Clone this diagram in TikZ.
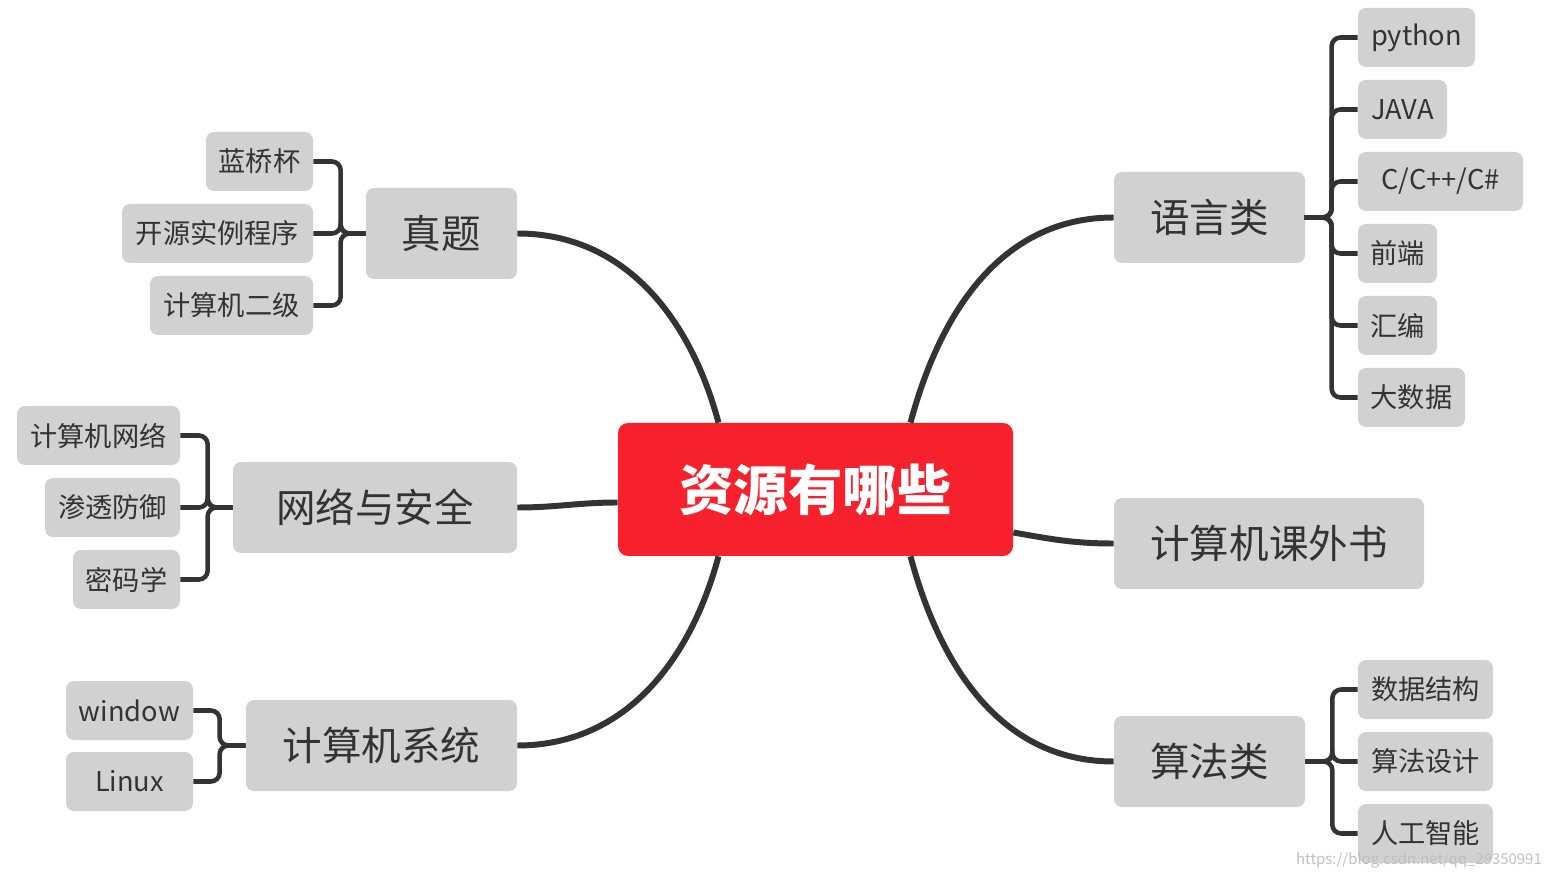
\documentclass[tikz,border=0pt]{standalone}
\usepackage{fontspec}
\setmainfont{Noto Sans CJK SC}
\begin{document}
\begin{tikzpicture}[x=0.02cm,y=-0.02cm,
  base/.style={fill=boxgray,rounded corners=8*0.02cm,inner sep=0pt,text=txt},
  leaf/.style={base,font=\fontsize{15.5pt}{17pt}\selectfont},
  mainb/.style={base,font=\fontsize{22.5pt}{24pt}\selectfont},
  root/.style={fill=rootred,rounded corners=10*0.02cm,inner sep=0pt,text=white,font=\fontsize{31pt}{33pt}\selectfont\bfseries},
  link/.style={draw=lnk,line width=3.4pt},
  brk/.style={draw=lnk,line width=2.6pt,rounded corners=5pt}]
\definecolor{boxgray}{HTML}{D1D1D1}
\definecolor{txt}{HTML}{333333}
\definecolor{lnk}{HTML}{333333}
\definecolor{rootred}{HTML}{F7212E}
\newcommand\bx[7]{\node[#2,minimum width={(#5-#3)*0.02cm},minimum height={(#6-#4)*0.02cm}] (#1) at ({(#3+#5)/2},{(#4+#6)/2}) {#7};}
\useasboundingbox (0,0) rectangle (1553,878);
\bx{c}{root}{618}{423}{1013}{556}{资源有哪些}
\bx{zt}{mainb}{366}{188}{517}{279}{真题}
\bx{wl}{mainb}{233}{462}{517}{553}{网络与安全}
\bx{xt}{mainb}{246}{700}{517}{791}{计算机系统}
\bx{yy}{mainb}{1114}{172}{1305}{263}{语言类}
\bx{kw}{mainb}{1114}{498}{1424}{589}{计算机课外书}
\bx{sf}{mainb}{1114}{716}{1305}{807}{算法类}
\bx{a1}{leaf}{206}{132}{313}{191}{蓝桥杯}
\bx{a2}{leaf}{122}{204}{313}{263}{开源实例程序}
\bx{a3}{leaf}{150}{276}{313}{335}{计算机二级}
\bx{b1}{leaf}{17}{406}{180}{465}{计算机网络}
\bx{b2}{leaf}{45}{478}{180}{537}{渗透防御}
\bx{b3}{leaf}{73}{550}{180}{609}{密码学}
\bx{d1}{leaf}{66}{681}{193}{740}{window}
\bx{d2}{leaf}{66}{752}{193}{811}{Linux}
\bx{e1}{leaf}{1358}{8}{1475}{67}{python}
\bx{e2}{leaf}{1358}{80}{1447}{139}{JAVA}
\bx{e3}{leaf}{1358}{152}{1523}{211}{C/C++/C\#}
\bx{e4}{leaf}{1358}{224}{1437}{283}{前端}
\bx{e5}{leaf}{1358}{296}{1437}{355}{汇编}
\bx{e6}{leaf}{1358}{368}{1465}{427}{大数据}
\bx{f1}{leaf}{1358}{660}{1493}{719}{数据结构}
\bx{f2}{leaf}{1358}{732}{1493}{791}{算法设计}
\bx{f3}{leaf}{1358}{804}{1493}{863}{人工智能}
% main links
\path[link] ([xshift={-97*0.02cm}]c.north) to[out=105,in=0] (zt.east);
\path[link] ([xshift={95*0.02cm}]c.north) to[out=75,in=180] (yy.west);
\path[link] ([yshift={-13*0.02cm}]c.west) to[out=180,in=0] (wl.east);
\path[link] ([xshift={-97*0.02cm}]c.south) to[out=-105,in=0] (xt.east);
\path[link] ([yshift={-43*0.02cm}]c.east) to[out=-10,in=180] (kw.west);
\path[link] ([xshift={95*0.02cm}]c.south) to[out=-75,in=180] (sf.west);
% brackets
\foreach \l in {a1,a2,a3} \path[brk] (zt.west) -- ++(-25,0) |- (\l.east);
\foreach \l in {b1,b2,b3} \path[brk] (wl.west) -- ++(-25,0) |- (\l.east);
\foreach \l in {d1,d2} \path[brk] (xt.west) -- ++(-26,0) |- (\l.east);
\foreach \l in {e1,e2,e3,e4,e5,e6} \path[brk] (yy.west) ++(191,0) -- ++(27,0) |- (\l.west);
\foreach \l in {f1,f2,f3} \path[brk] (sf.east) -- ++(27,0) |- (\l.west);
\node[text=black!25,font=\fontsize{8.5pt}{9pt}\selectfont,anchor=east] (wm) at (1548,860) {https://blog.csdn.net/qq\_29350991};
\end{tikzpicture}
\end{document}
